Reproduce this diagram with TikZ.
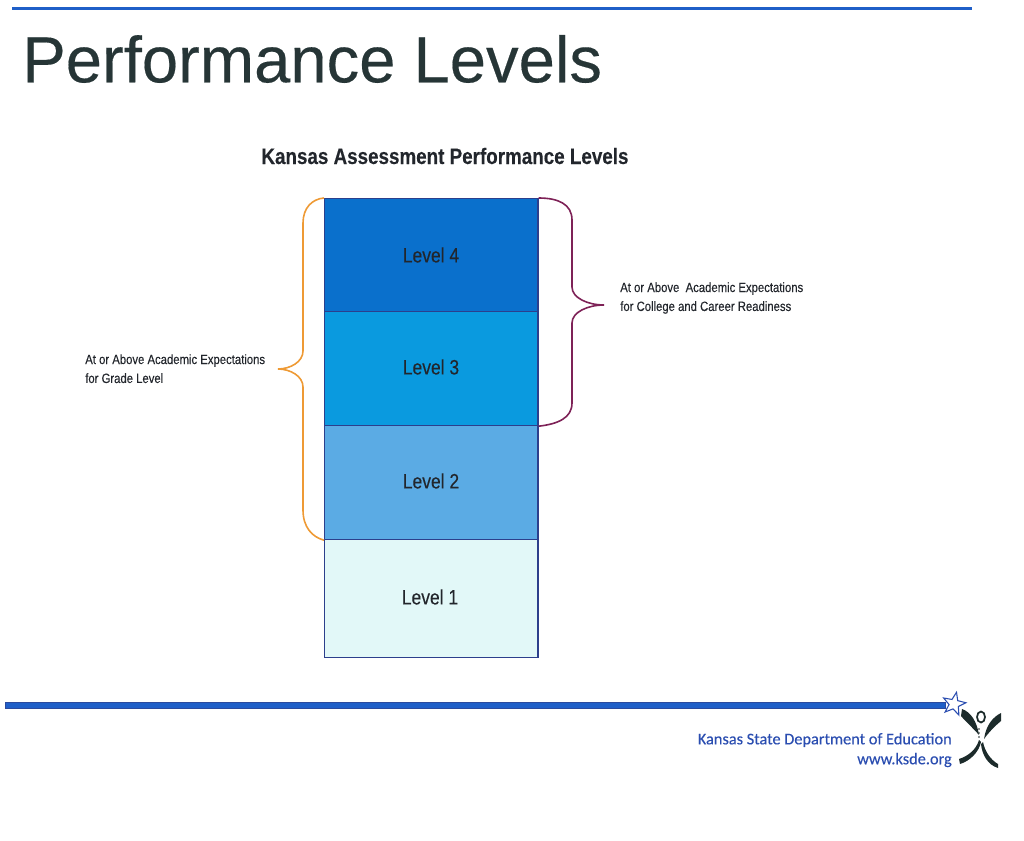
\documentclass[tikz,border=0pt]{standalone}
\usepackage{fontspec}
\usepackage{xcolor}
\usetikzlibrary{shapes.geometric}
\setmainfont{Liberation Sans}
\newfontfamily\titlefont[FakeBold=0.25]{Liberation Sans}
\newfontfamily\narrowfont[FakeStretch=0.84,FakeBold=0.2]{Liberation Sans}
\newfontfamily\logofont[FakeBold=0.3]{Carlito}

\definecolor{barblue}{HTML}{1F5FC8}
\definecolor{barline}{HTML}{2B4A9E}
\definecolor{levelfour}{HTML}{0A70CC}
\definecolor{levelthree}{HTML}{0A9ADF}
\definecolor{leveltwo}{HTML}{5BABE4}
\definecolor{levelone}{HTML}{E2F8F8}
\definecolor{boxline}{HTML}{2C3F8C}
\definecolor{bracegold}{HTML}{EE9A35}
\definecolor{braceplum}{HTML}{7E2257}
\definecolor{logoblue}{HTML}{2A4DB0}
\definecolor{logoink}{HTML}{1C2B2B}
\definecolor{titleink}{HTML}{263536}
\definecolor{textink}{HTML}{22262C}

\tikzset{
  levelbox/.style={draw=boxline,line width=0.9pt,minimum width=160pt,inner sep=0pt,anchor=north west},
  levellabel/.style={inner sep=0pt,text=textink,font=\narrowfont\fontsize{15.6}{17}\selectfont},
  notetext/.style={anchor=north west,inner sep=0.75pt,align=left,text=textink,font=\narrowfont\fontsize{10.1}{14.2}\selectfont},
  logotext/.style={anchor=east,inner sep=0pt,text=logoblue,font=\logofont\fontsize{12.25}{15}\selectfont},
  bracegoldline/.style={draw=bracegold,line width=1.2pt},
  braceplumline/.style={draw=braceplum,line width=1.2pt},
  logofill/.style={fill=logoink,draw=none}
}

\begin{document}
\begin{tikzpicture}[x=0.75pt,y=0.75pt,yscale=-1,xscale=1]
\useasboundingbox (0,0) rectangle (1024,841);

%Shape: Top Bar
\fill [barblue] (12,7.5) rectangle (972,10.5);
%Shape: Bottom Bar
\draw [barline,fill=barblue,line width=0.5pt] (5,702) rectangle (945,708.5);

% Text Node
\node (title) at (22,59) [anchor=west,inner sep=0pt,text=titleink,font=\titlefont\fontsize{48.9}{54}\selectfont] {Performance Levels};
% Text Node
\node (heading) at (445,156) [inner sep=0pt,text=textink,font=\narrowfont\bfseries\fontsize{16.8}{19}\selectfont] {Kansas Assessment Performance Levels};

%Shape: Level Boxes
\node (level4) at (324,198) [levelbox,fill=levelfour,minimum height=84.75pt] {};
\node (level3) at (324,311) [levelbox,fill=levelthree,minimum height=85.5pt] {};
\node (level2) at (324,425) [levelbox,fill=leveltwo,minimum height=85.5pt] {};
\node (level1) at (324,539) [levelbox,fill=levelone,minimum height=88.5pt] {};

% Text Node
\node (label4) at (431,255) [levellabel] {Level 4};
\node (label3) at (431,367) [levellabel] {Level 3};
\node (label2) at (431,481) [levellabel] {Level 2};
\node (label1) at (430,597) [levellabel] {Level 1};

%Curve Lines: Left Brace
\coordinate (lefttip) at (278,369);
\draw [bracegoldline] (level4.north west) .. controls (312,199) and (303,208) .. (303,223) -- (303,351) .. controls (303,362) and (290,369) .. (lefttip) .. controls (290,369) and (303,376) .. (303,387) -- (303,510) .. controls (303,527) and (312,537) .. (level2.south west);
%Curve Lines: Right Brace
\coordinate (righttip) at (604,305);
\draw [braceplumline] (level4.north east) .. controls (558,198) and (572,204) .. (572,220) -- (572,287) .. controls (572,298) and (588,305) .. (righttip) .. controls (588,305) and (572,312) .. (572,323) -- (572,403) .. controls (572,418) and (558,424) .. (level3.south east);

% Text Node
\node (gradenote) at (84,353) [notetext] {At or Above Academic Expectations\\for Grade Level};
% Text Node
\node (collegenote) at (619,281) [notetext] {At or Above\ \ Academic Expectations\\for College and Career Readiness};

% Text Node
\node (agency) at (952,740) [logotext] {Kansas State Department of Education};
% Text Node
\node (website) at (952,760) [logotext] {www.ksde.org};

%Shape: Star
\node (logostar) at (954,704) [star,star points=5,star point ratio=2.4,draw=logoblue,fill=white,line width=0.8pt,minimum size=18pt,inner sep=0pt,rotate=-12] {};
%Shape: Figure
\draw [logoink,line width=1.3pt] (981,717) ellipse (4 and 5.5);
\fill [logofill] (962,709) .. controls (971,712) and (977,722) .. (979,735) .. controls (973,728) and (966,722) .. (961,716) -- cycle;
\fill [logofill] (1001,713) .. controls (993,717) and (986,725) .. (984,739) .. controls (989,732) and (995,726) .. (1001,721) -- cycle;
\fill [logofill] (979,740) .. controls (976,750) and (968,756) .. (959,759) -- (960,764) .. controls (970,761) and (979,752) .. (981,742) -- cycle;
\fill [logofill] (981,744) .. controls (982,755) and (988,765) .. (998,768) -- (998,764) .. controls (991,760) and (985,752) .. (983,742) -- cycle;
\fill [logofill] (979,729) circle (0.9) (979,733) circle (0.9) (979,737) circle (0.9);

\end{tikzpicture}
\end{document}
